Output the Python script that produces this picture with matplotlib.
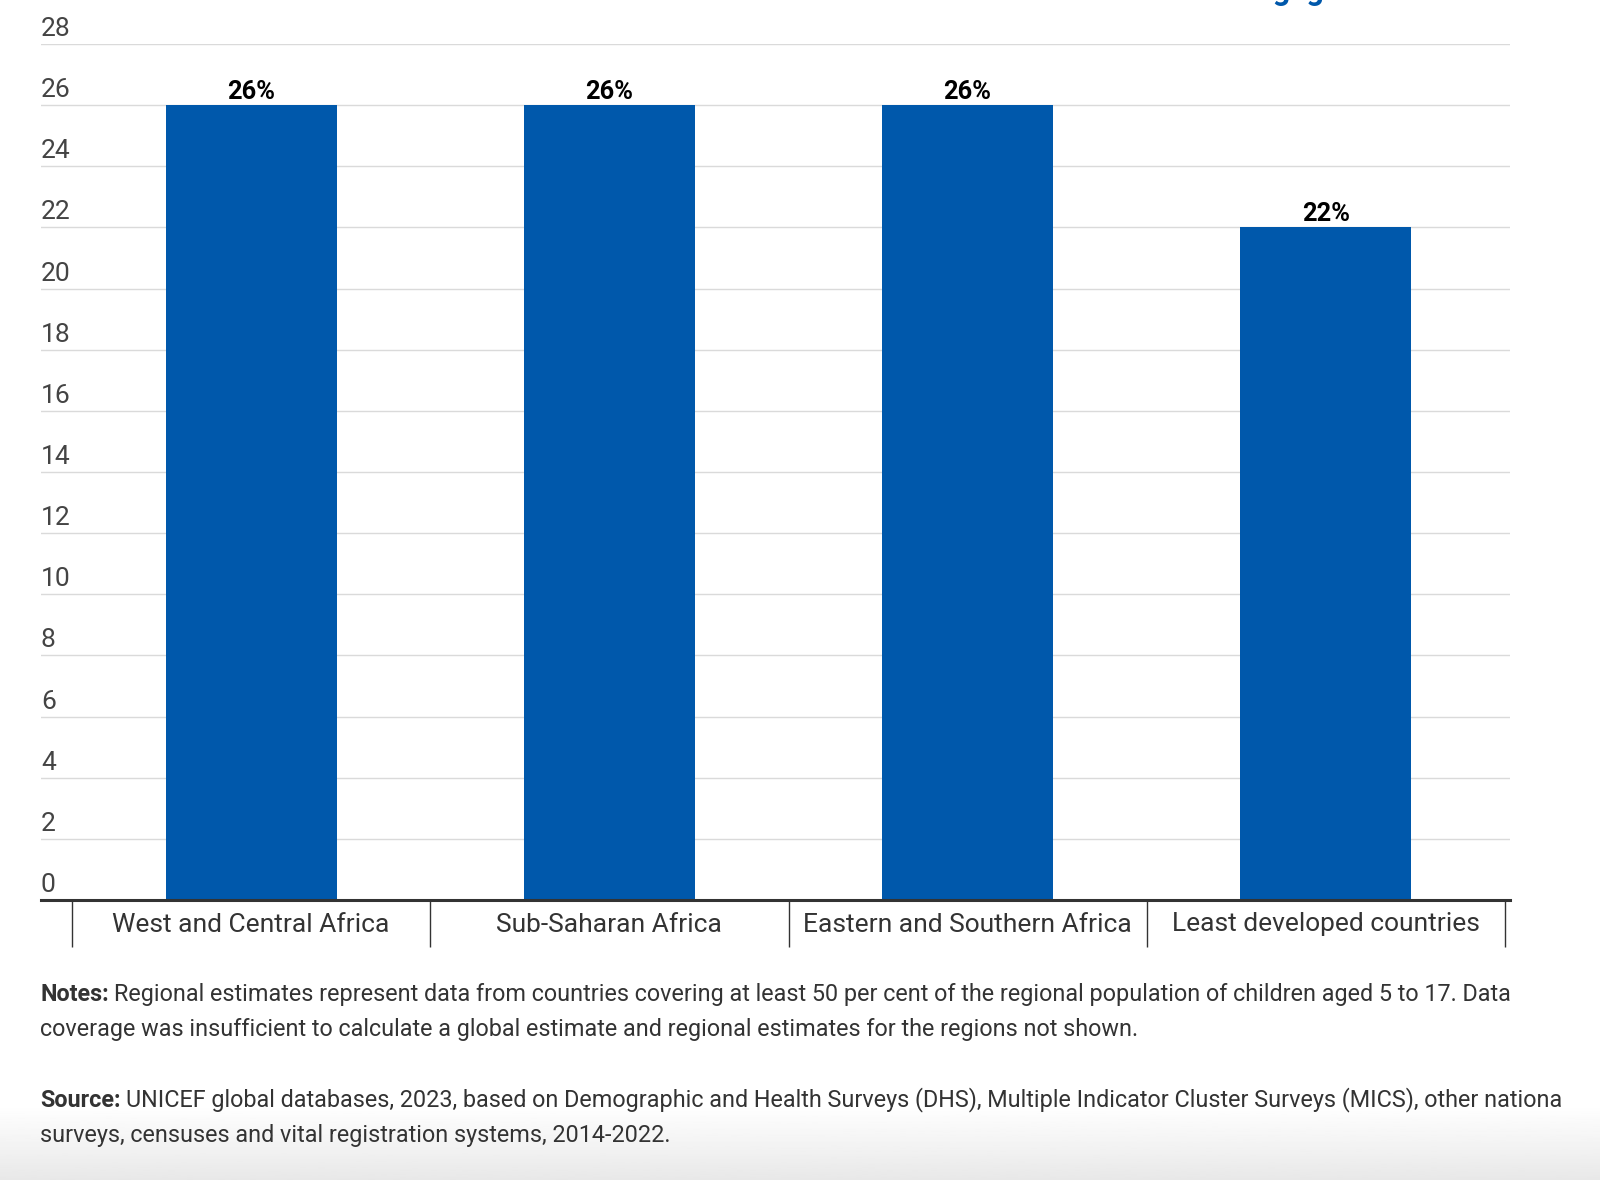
import numpy as np
import matplotlib
matplotlib.use("Agg")
import matplotlib.pyplot as plt
from matplotlib.transforms import ScaledTranslation, Bbox, TransformedBbox

plt.rcParams['font.family'] = ['Roboto', 'DejaVu Sans']

# data
regions = ["West and Central Africa", "Sub-Saharan Africa",
           "Eastern and Southern Africa", "Least developed countries"]
values = [26, 26, 26, 22]
y_ticks = list(range(0, 29, 2))

notes_head = "Notes:"
notes_line1 = ("Regional estimates represent data from countries covering at least 50 per cent "
               "of the regional population of children aged 5 to 17. Data")
notes_line2 = "coverage was insufficient to calculate a global estimate and regional estimates for the regions not shown."
source_head = "Source:"
source_line1 = ("UNICEF global databases, 2023, based on Demographic and Health Surveys (DHS), "
                "Multiple Indicator Cluster Surveys (MICS), other national")
source_line2 = "surveys, censuses and vital registration systems, 2014-2022."

BLUE = "#0058AB"
DARK = "#333333"

fig = plt.figure(figsize=(16, 11.8), dpi=100)

# soft grey fade at the bottom of the page
bg = fig.add_axes([0, 0, 1, 75 / 1180])
fade = np.linspace(0.91, 1.0, 64).reshape(-1, 1)
bg.imshow(fade, cmap="gray", vmin=0, vmax=1, aspect="auto", origin="lower",
          extent=[0, 1, 0, 1])
bg.axis("off")

ax = fig.add_axes([41 / 1600, (1180 - 900) / 1180, 1469 / 1600, 856 / 1180])
x = np.arange(len(regions))
ax.bar(x, values, width=0.477, color=BLUE, zorder=2)

ax.set_xlim(-0.5866, 3.514)
ax.set_ylim(0, 28)
ax.set_yticks(y_ticks)
ax.yaxis.grid(True, color="#dadada", linewidth=1.0, zorder=0)
ax.tick_params(axis="y", length=0, labelleft=False)

for s in ["top", "right", "left"]:
    ax.spines[s].set_visible(False)
ax.spines["bottom"].set_color(DARK)
ax.spines["bottom"].set_linewidth(2.2)
ax.spines["bottom"].set_zorder(3)

ax.set_xticks(x)
ax.set_xticklabels(regions, fontsize=19, color=DARK)
ax.set_xticks(np.arange(len(regions) + 1) - 0.5, minor=True)
ax.tick_params(axis="x", which="major", length=0, pad=9)
ax.tick_params(axis="x", which="minor", length=34, width=1.0, color=DARK, direction="out")

# y labels sit above the gridlines, inside the plot area
up = ScaledTranslation(0, 8 / 100, fig.dpi_scale_trans)
for v in y_ticks:
    ax.text(0, v, str(v), transform=ax.get_yaxis_transform() + up,
            ha="left", va="baseline", fontsize=19, color="#444444", clip_on=False)

lift = ScaledTranslation(0, 6 / 100, fig.dpi_scale_trans)
for xi, v in zip(x, values):
    ax.text(xi, v, f"{v}%", transform=ax.transData + lift, ha="center", va="baseline",
            fontsize=18.3, fontweight="bold", color="black")

# cut-off title above the chart (only descenders show)
fig.text(1240 / 1600, 1.0, "engaged", color=BLUE, fontsize=22, fontweight="bold",
         ha="left", va="baseline")

clip = TransformedBbox(Bbox([[0, 0], [1562 / 1600, 1]]), fig.transFigure)

def note(y_px, head, line1, line2):
    h = fig.text(40 / 1600, 1 - y_px / 1180, head, fontsize=16.8, fontweight="bold",
                 color=DARK, ha="left", va="baseline")
    t = ax.annotate(line1, xy=(1, 0), xycoords=h, xytext=(4, 0), textcoords="offset points",
                    fontsize=16.8, color=DARK, ha="left", va="bottom", annotation_clip=False)
    t.set_clip_on(True)
    t.set_clip_box(clip)
    fig.text(40 / 1600, 1 - (y_px + 35) / 1180, line2, fontsize=16.8, color=DARK,
             ha="left", va="baseline")

note(1001, notes_head, notes_line1, notes_line2)
note(1107, source_head, source_line1, source_line2)

fig.savefig("out.png", dpi=100)
